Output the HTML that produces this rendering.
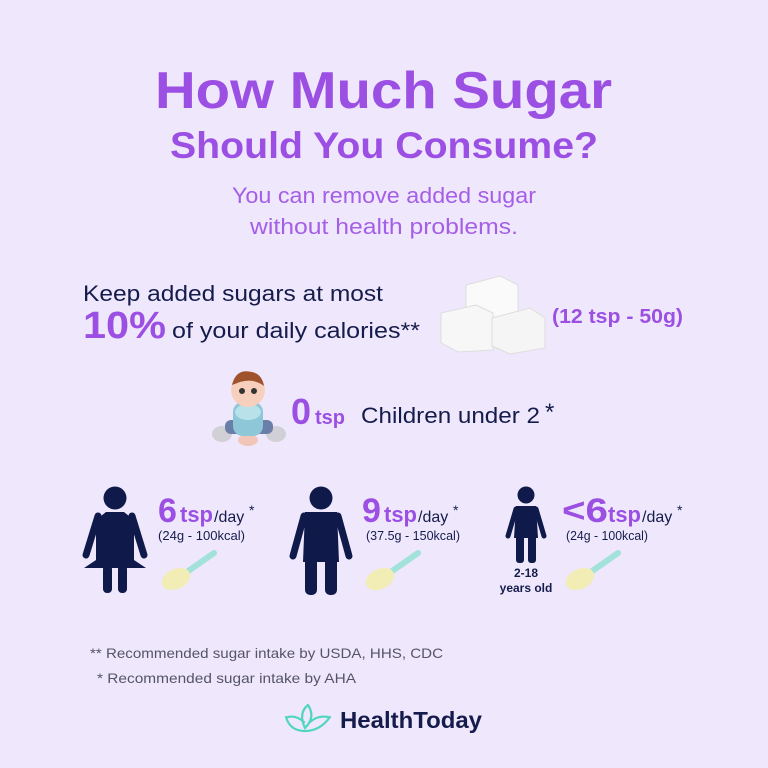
<!DOCTYPE html>
<html><head><meta charset="utf-8"><style>
html,body{margin:0;padding:0;background:#efe8fd;}
svg{display:block}
text{font-family:"Liberation Sans",sans-serif}
</style></head><body>
<svg width="768" height="768" viewBox="0 0 768 768" xmlns="http://www.w3.org/2000/svg">
<rect width="768" height="768" fill="#efe8fd"/>
<g fill="#9b4fe3" font-weight="bold">
<text x="155" y="108" font-size="52" textLength="457" lengthAdjust="spacingAndGlyphs">How Much Sugar</text>
<text x="170" y="158" font-size="37" textLength="428" lengthAdjust="spacingAndGlyphs">Should You Consume?</text>
</g>
<g fill="#a55ee6" font-size="22">
<text x="232" y="203" textLength="304" lengthAdjust="spacingAndGlyphs">You can remove added sugar</text>
<text x="250" y="234" textLength="268" lengthAdjust="spacingAndGlyphs">without health problems.</text>
</g>
<g fill="#151c4b" font-size="22">
<text x="83" y="301" textLength="300" lengthAdjust="spacingAndGlyphs">Keep added sugars at most</text>
<text x="172" y="338" textLength="248" lengthAdjust="spacingAndGlyphs">of your daily calories**</text>
<text x="361" y="423" textLength="179" lengthAdjust="spacingAndGlyphs">Children under 2</text>
<text x="545" y="420" font-size="24">*</text>
</g>
<text x="83" y="338" font-size="38" font-weight="bold" fill="#9b4fe3" textLength="83" lengthAdjust="spacingAndGlyphs">10%</text>
<text x="552" y="323" font-size="20" font-weight="bold" fill="#9b4fe3" textLength="131" lengthAdjust="spacingAndGlyphs">(12 tsp - 50g)</text>
<text x="291" y="424" font-size="36" font-weight="bold" fill="#9b4fe3">0</text>
<text x="315" y="424" font-size="20" font-weight="bold" fill="#9b4fe3">tsp</text>

<!-- sugar cubes -->
<g stroke="#ddd" stroke-width="1">
<polygon points="466,285 500,276 518,285 518,318 484,328 466,318" fill="#fafafa"/>
<polygon points="441,313 476,305 493,313 493,350 458,352 441,343" fill="#f7f7f7"/>
<polygon points="492,318 530,308 545,318 545,348 510,354 492,346" fill="#f5f5f5"/>
</g>

<!-- baby -->
<g>
<ellipse cx="222" cy="434" rx="10" ry="8" fill="#d0d0d6"/>
<ellipse cx="276" cy="434" rx="10" ry="8" fill="#d0d0d6"/>
<rect x="225" y="420" width="48" height="14" rx="6" fill="#6a7fa8"/>
<ellipse cx="248" cy="440" rx="10" ry="6" fill="#f1c5b7"/>
<rect x="233" y="402" width="30" height="34" rx="10" fill="#8ec7d8"/>
<ellipse cx="248" cy="412" rx="13" ry="8" fill="#b9e1ea"/>
<circle cx="248" cy="390" r="17" fill="#f6d0bd"/>
<path d="M232,385 Q236,368 252,372 Q262,374 264,386 Q254,378 240,382 Z" fill="#a0522d"/>
<circle cx="242" cy="391" r="3" fill="#333"/><circle cx="254" cy="391" r="3" fill="#333"/>
</g>

<!-- figures -->
<g fill="#101a4a">
<circle cx="115" cy="498" r="11.5"/>
<path d="M106,512 L124,512 L134,520 L134,560 L146,568 L84,568 L96,560 L96,520 Z"/>
<path d="M98,516 L86,555" stroke="#101a4a" stroke-width="7" stroke-linecap="round"/>
<path d="M132,516 L144,555" stroke="#101a4a" stroke-width="7" stroke-linecap="round"/>
<rect x="103" y="565" width="9" height="28" rx="4"/>
<rect x="118" y="565" width="9" height="28" rx="4"/>

<circle cx="321" cy="498" r="11.5"/>
<path d="M305,512 L337,512 L339,562 L303,562 Z"/>
<path d="M304,516 L293,556" stroke="#101a4a" stroke-width="7" stroke-linecap="round"/>
<path d="M338,516 L349,556" stroke="#101a4a" stroke-width="7" stroke-linecap="round"/>
<rect x="305" y="555" width="12" height="40" rx="5"/>
<rect x="325" y="555" width="12" height="40" rx="5"/>

<circle cx="526" cy="495" r="8.5"/>
<path d="M516,506 L536,506 L538,538 L514,538 Z"/>
<path d="M516,509 L508,536" stroke="#101a4a" stroke-width="5" stroke-linecap="round"/>
<path d="M536,509 L544,536" stroke="#101a4a" stroke-width="5" stroke-linecap="round"/>
<rect x="516" y="535" width="8" height="28" rx="3"/>
<rect x="528" y="535" width="8" height="28" rx="3"/>
</g>

<!-- spoons -->
<g id="sp">
<path d="M184,574 L214,553" stroke="#a3e2da" stroke-width="6" stroke-linecap="round"/>
<ellipse cx="176" cy="579" rx="15" ry="10" fill="#f2ecb5" transform="rotate(-25 176 579)"/>
</g>
<use href="#sp" x="204" y="0"/>
<use href="#sp" x="404" y="0"/>

<!-- figure texts -->
<g font-weight="bold" fill="#9b4fe3">
<text x="158" y="522" font-size="34">6</text>
<text x="180" y="522" font-size="22">tsp</text>
<text x="362" y="522" font-size="34">9</text>
<text x="384" y="522" font-size="22">tsp</text>
<text x="562" y="522" font-size="34" textLength="46" lengthAdjust="spacingAndGlyphs">&lt;6</text>
<text x="608" y="522" font-size="22">tsp</text>
</g>
<g fill="#151c4b" font-size="16">
<text x="214" y="522">/day</text><text x="249" y="515" font-size="14">*</text>
<text x="418" y="522">/day</text><text x="453" y="515" font-size="14">*</text>
<text x="642" y="522">/day</text><text x="677" y="515" font-size="14">*</text>
</g>
<g fill="#151c4b" font-size="12.5">
<text x="158" y="540" textLength="87" lengthAdjust="spacingAndGlyphs">(24g - 100kcal)</text>
<text x="366" y="540" textLength="94" lengthAdjust="spacingAndGlyphs">(37.5g - 150kcal)</text>
<text x="566" y="540" textLength="82" lengthAdjust="spacingAndGlyphs">(24g - 100kcal)</text>
</g>
<g fill="#151c4b" font-size="12" font-weight="bold" text-anchor="middle">
<text x="526" y="577">2-18</text>
<text x="526" y="592">years old</text>
</g>

<!-- footnotes -->
<g fill="#555566" font-size="14">
<text x="90" y="658" textLength="353" lengthAdjust="spacingAndGlyphs">** Recommended sugar intake  by USDA, HHS, CDC</text>
<text x="97" y="683" textLength="259" lengthAdjust="spacingAndGlyphs">* Recommended sugar intake  by AHA</text>
</g>

<!-- logo -->
<g fill="none" stroke="#4fd6bd" stroke-width="2.2" stroke-linecap="round">
<path d="M286,717 Q290,731 305,731 Q320,731 330,717"/>
<path d="M308,705 Q298,713 305,728 Q316,717 308,705"/>
<path d="M288,717 Q296,715 304,722"/>
<path d="M328,717 Q318,715 310,722"/>
</g>
<text x="340" y="728" font-size="23" font-weight="bold" fill="#151c4b" textLength="142" lengthAdjust="spacingAndGlyphs">HealthToday</text>
</svg>
</body></html>
